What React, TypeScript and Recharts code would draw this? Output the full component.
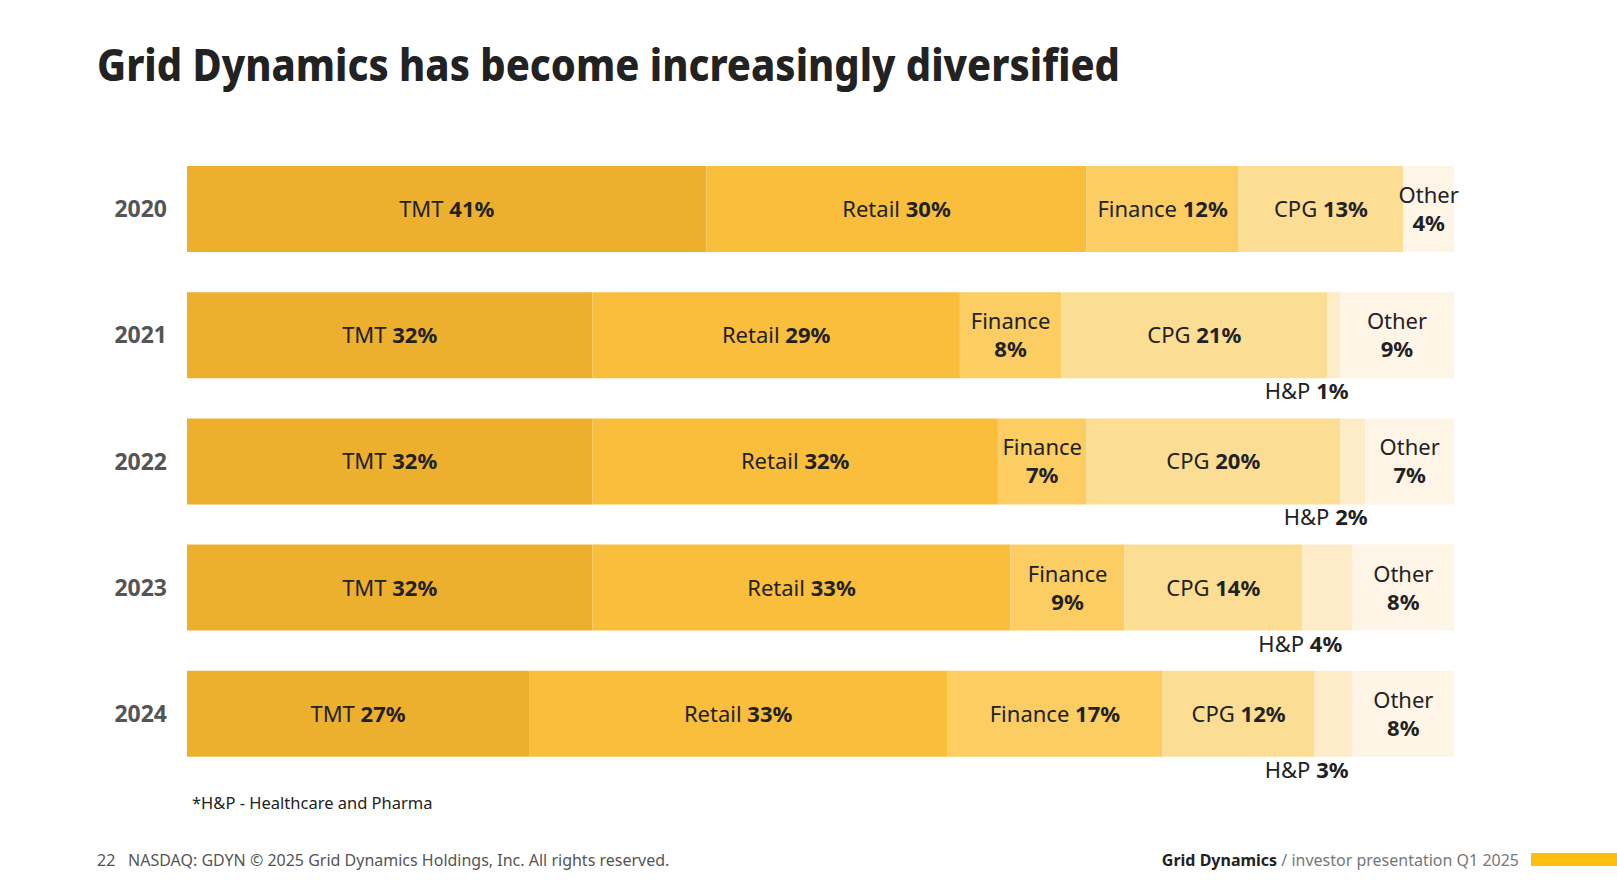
import React from 'react';
import { BarChart, Bar, XAxis, YAxis, LabelList } from 'recharts';

const years = ['2020', '2021', '2022', '2023', '2024'];
const tmt = [41, 32, 32, 32, 27];
const retail = [30, 29, 32, 33, 33];
const finance = [12, 8, 7, 9, 17];
const cpg = [13, 21, 20, 14, 12];
const hp = [0, 1, 2, 4, 3];
const other = [4, 9, 7, 8, 8];

const seriesKeys = ['tmt', 'retail', 'finance', 'cpg', 'hp', 'other'];
const seriesNames = ['TMT', 'Retail', 'Finance', 'CPG', 'H&P', 'Other'];
const seriesColors = ['#EDAF2E', '#F9BE3B', '#FBCD63', '#FBDD94', '#FEECC8', '#FEF5E7'];

const rows = years.map((y, i) => ({
  year: y,
  tmt: tmt[i],
  retail: retail[i],
  finance: finance[i],
  cpg: cpg[i],
  hp: hp[i],
  other: other[i],
}));

const FONT = '"Noto Sans", "Open Sans", sans-serif';

const makeLabel = (sIdx: number) => (props: any) => {
  const { x, y, width, height } = props;
  let v = props.value;
  if (Array.isArray(v)) v = v[1] - v[0];
  if (!v) return null;
  const name = seriesNames[sIdx];
  const cx = Number(x) + Number(width) / 2;
  const cy = Number(y) + Number(height) / 2;
  if (seriesKeys[sIdx] === 'hp') {
    return (
      <text x={cx - 27} y={Number(y) + Number(height) + 21} textAnchor="middle" fontSize={22} fill="#222" fontFamily={FONT}>
        <tspan>{name} </tspan>
        <tspan fontWeight={700}>{v}%</tspan>
      </text>
    );
  }
  if (Number(width) < 120) {
    return (
      <text textAnchor="middle" fontSize={22} fill="#222" fontFamily={FONT}>
        <tspan x={cx} y={cy - 6}>{name}</tspan>
        <tspan x={cx} y={cy + 22} fontWeight={700}>{v}%</tspan>
      </text>
    );
  }
  return (
    <text x={cx} y={cy + 8} textAnchor="middle" fontSize={22} fill="#222" fontFamily={FONT}>
      <tspan>{name} </tspan>
      <tspan fontWeight={700}>{v}%</tspan>
    </text>
  );
};

const YearTick = (props: any) => {
  const { x, y, payload } = props;
  return (
    <text x={x} y={y + 8} textAnchor="end" fontSize={23} fontWeight={700} fill="#555" fontFamily={FONT}>
      {payload.value}
    </text>
  );
};

export default function App() {
  return (
    <div style={{ position: 'relative', width: 1617, height: 880, overflow: 'hidden', background: '#fff', fontFamily: FONT }}>
      <style>{`html,body{margin:0;padding:0;overflow:hidden;}`}</style>
      <svg width={1617} height={100} style={{ position: 'absolute', left: 0, top: 0 }}>
        <text x={97} y={80.5} fontSize={44} fontWeight={800} fill="#222" fontFamily={FONT} textLength={1023} lengthAdjust="spacingAndGlyphs">
          Grid Dynamics has become increasingly diversified
        </text>
      </svg>
      <div style={{ position: 'absolute', left: 0, top: 0 }}>
        <BarChart
          width={1617}
          height={880}
          data={rows}
          layout="vertical"
          margin={{ top: 146, right: 163, bottom: 103, left: 107 }}
          barSize={86}
        >
          <XAxis type="number" domain={[0, 100]} hide />
          <YAxis
            type="category"
            dataKey="year"
            width={80}
            axisLine={false}
            tickLine={false}
            tickSize={0}
            tickMargin={20}
            tick={<YearTick />}
          />
          {seriesKeys.map((k, i) => (
            <Bar key={k} dataKey={k} stackId="a" fill={seriesColors[i]} isAnimationActive={false}>
              <LabelList dataKey={k} content={makeLabel(i)} />
            </Bar>
          ))}
        </BarChart>
      </div>
      <svg width={1617} height={880} style={{ position: 'absolute', left: 0, top: 0, pointerEvents: 'none' }}>
        <text x={192} y={809} fontSize={16.5} fill="#222" fontFamily={FONT}>*H&amp;P - Healthcare and Pharma</text>
        <text x={97} y={866} fontSize={16} fill="#555" fontFamily={FONT}>22</text>
        <text x={128} y={866} fontSize={16} fill="#555" fontFamily={FONT}>NASDAQ: GDYN © 2025 Grid Dynamics Holdings, Inc. All rights reserved.</text>
        <text x={1519} y={866} textAnchor="end" fontSize={16} fontFamily={FONT}>
          <tspan fill="#222" fontWeight={700}>Grid Dynamics</tspan>
          <tspan fill="#777"> / investor presentation Q1 2025</tspan>
        </text>
        <rect x={1531} y={853} width={86} height={13} fill="#FDBE10" />
      </svg>
    </div>
  );
}
